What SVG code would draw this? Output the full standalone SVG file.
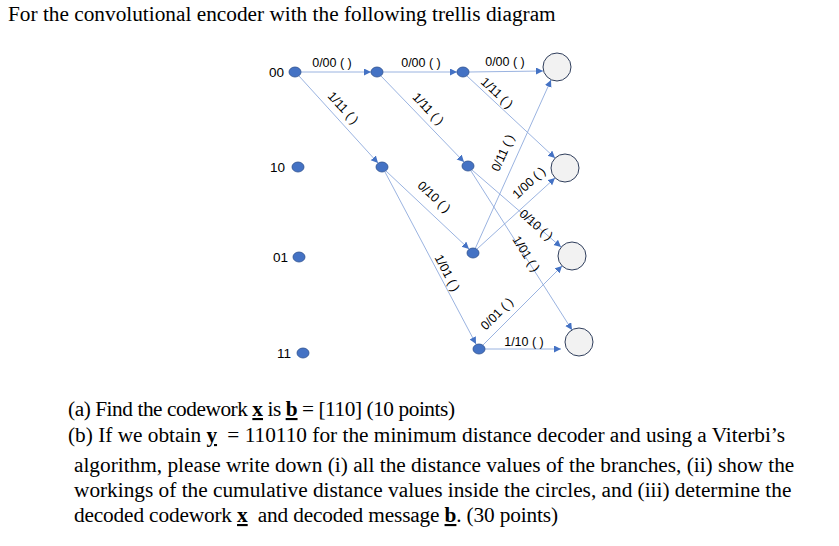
<svg xmlns="http://www.w3.org/2000/svg" width="839" height="546" viewBox="0 0 839 546">
<style>
.bg{fill:#ffffff}
.st{fill:#4472C4;stroke:#2F528F;stroke-width:0.8}
.end{fill:#F2F2F2;stroke:#2F3E5C;stroke-width:1}
.edge{stroke:#8FAADC;stroke-width:0.9;fill:none;marker-end:url(#arr)}
.lbl{font-family:"Liberation Sans",Arial,sans-serif;font-size:12.5px;fill:#000;text-anchor:middle}
.slbl{font-family:"Liberation Sans",Arial,sans-serif;font-size:13.5px;fill:#000;text-anchor:end}
.tx{font-family:"Liberation Serif","Times New Roman",serif;font-size:21.3px;fill:#000}
.bu{font-weight:bold;text-decoration:underline}
</style>
<defs>
<marker id="arr" markerUnits="userSpaceOnUse" markerWidth="8" markerHeight="8" refX="7" refY="3.5" orient="auto">
<path d="M0,0 L7,3.5 L0,7 Z" fill="#4472C4"/>
</marker>
</defs>
<rect class="bg" x="0" y="0" width="839" height="546"/>

<text class="tx" x="8" y="21">For the convolutional encoder with the following trellis diagram</text>

<g id="connectors">
<line class="edge" x1="301" y1="72" x2="371" y2="72"/>
<line class="edge" x1="299" y1="76" x2="378" y2="163"/>
<line class="edge" x1="383" y1="72" x2="457" y2="72"/>
<line class="edge" x1="381" y1="76" x2="464" y2="162"/>
<line class="edge" x1="386" y1="171" x2="469" y2="249"/>
<line class="edge" x1="385" y1="172" x2="476" y2="344"/>
<line class="edge" x1="469" y1="72" x2="543" y2="71"/>
<line class="edge" x1="467" y1="76" x2="555" y2="158"/>
<line class="edge" x1="472" y1="170" x2="561" y2="247"/>
<line class="edge" x1="471" y1="171" x2="572" y2="330"/>
<line class="edge" x1="475" y1="249" x2="551" y2="80"/>
<line class="edge" x1="477" y1="249" x2="555" y2="178"/>
<line class="edge" x1="483" y1="345" x2="562" y2="266"/>
<line class="edge" x1="485" y1="349" x2="561" y2="349"/>
</g>

<g id="edge-labels">
<text class="lbl" x="332" y="67">0/00 ( )</text>
<text class="lbl" x="421" y="67">0/00 ( )</text>
<text class="lbl" x="505" y="66">0/00 ( )</text>
<text class="lbl" transform="rotate(47.5 343 108)" x="343" y="112">1/11 ( )</text>
<text class="lbl" transform="rotate(46 428 109)" x="428" y="113">1/11 ( )</text>
<text class="lbl" transform="rotate(43 434 197)" x="434" y="201">0/10 ( )</text>
<text class="lbl" transform="rotate(62 447 273)" x="447" y="277">1/01 ( )</text>
<text class="lbl" transform="rotate(43 497 93)" x="497" y="97">1/11 ( )</text>
<text class="lbl" transform="rotate(-66 503 153)" x="503" y="157">0/11 ( )</text>
<text class="lbl" transform="rotate(-43 529 183)" x="529" y="187">1/00 ( )</text>
<text class="lbl" transform="rotate(41 536 225)" x="536" y="229">0/10 ( )</text>
<text class="lbl" transform="rotate(58 526 254)" x="526" y="258">1/01 ( )</text>
<text class="lbl" transform="rotate(-45 497 314)" x="497" y="318">0/01 ( )</text>
<text class="lbl" x="524" y="346">1/10 ( )</text>
</g>

<g id="s00-0"><text class="slbl" x="284" y="77">00</text><ellipse class="st" cx="295" cy="72" rx="6" ry="5"/></g>
<g id="s10-0"><text class="slbl" x="285" y="172">10</text><ellipse class="st" cx="298" cy="167" rx="6" ry="5"/></g>
<g id="s01-0"><text class="slbl" x="288" y="262">01</text><ellipse class="st" cx="299" cy="257" rx="6" ry="5"/></g>
<g id="s11-0"><text class="slbl" x="291" y="358">11</text><ellipse class="st" cx="303" cy="353" rx="6" ry="5"/></g>

<g id="s00-1"><ellipse class="st" cx="377" cy="72" rx="6" ry="5"/></g>
<g id="s10-1"><ellipse class="st" cx="382" cy="167" rx="6" ry="5"/></g>

<g id="s00-2"><ellipse class="st" cx="463" cy="72" rx="6" ry="5"/></g>
<g id="s10-2"><ellipse class="st" cx="468" cy="166" rx="6" ry="5"/></g>
<g id="s01-2"><ellipse class="st" cx="473" cy="253" rx="6" ry="5"/></g>
<g id="s11-2"><ellipse class="st" cx="479" cy="349" rx="6" ry="5"/></g>

<g id="s00-3"><circle class="end" cx="557" cy="67" r="14"/></g>
<g id="s10-3"><circle class="end" cx="565" cy="168" r="14"/></g>
<g id="s01-3"><circle class="end" cx="572" cy="256" r="14"/></g>
<g id="s11-3"><circle class="end" cx="579" cy="342" r="14"/></g>

<g id="question">
<text class="tx" x="68" y="416" textLength="387" lengthAdjust="spacing">(a) Find the codework <tspan class="bu">x</tspan> is <tspan class="bu">b</tspan> = [110] (10 points)</text>
<text class="tx" x="68" y="442">(b) If we obtain <tspan class="bu">y</tspan><tspan dx="5"> = 110110 for the minimum distance decoder and using a Viterbi’s</tspan></text>
<text class="tx" x="74" y="472">algorithm, please write down (i) all the distance values of the branches, (ii) show the</text>
<text class="tx" x="74" y="497">workings of the cumulative distance values inside the circles, and (iii) determine the</text>
<text class="tx" x="74" y="522" textLength="484" lengthAdjust="spacing">decoded codework <tspan class="bu">x</tspan><tspan dx="5"> and decoded message </tspan><tspan class="bu">b</tspan>. (30 points)</text>
</g>
</svg>
